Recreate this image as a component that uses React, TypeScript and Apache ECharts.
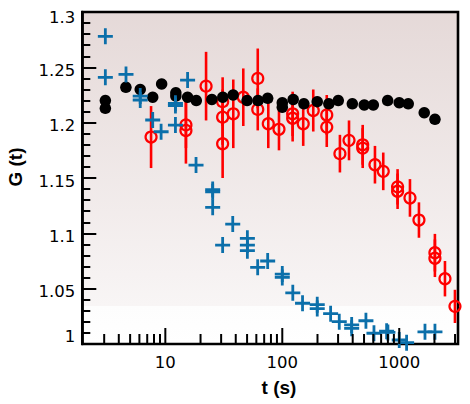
import React, { useEffect, useRef } from "react";
import * as echarts from "echarts";

// ---- data ----
const blackT = [3.07, 3.07, 4.6, 6.1, 7.8, 9.3, 12.3, 12.3, 15.5, 18.4, 25, 31, 38, 50, 62, 75, 100, 100, 124, 153, 199, 250, 301, 397, 502, 600, 796, 1000, 1194, 1636, 2020];
const blackG = [1.220, 1.213, 1.232, 1.230, 1.223, 1.235, 1.227, 1.224, 1.223, 1.220, 1.221, 1.223, 1.225, 1.220, 1.220, 1.222, 1.218, 1.214, 1.221, 1.217, 1.219, 1.217, 1.220, 1.217, 1.216, 1.216, 1.220, 1.218, 1.217, 1.209, 1.203];

const redT = [7.55, 15, 15, 22.3, 30.9, 30.9, 30.9, 38.1, 46.4, 61.7, 61.7, 75.9, 93.7, 122.6, 122.6, 151, 184, 240, 240, 311, 372, 487, 487, 620, 730, 968, 968, 1235, 1474, 2018, 2018, 2460, 2995];
const redG = [1.187, 1.198, 1.193, 1.233, 1.219, 1.205, 1.181, 1.208, 1.223, 1.240, 1.212, 1.199, 1.194, 1.208, 1.204, 1.199, 1.211, 1.207, 1.196, 1.172, 1.184, 1.180, 1.177, 1.162, 1.156, 1.142, 1.138, 1.132, 1.112, 1.0825, 1.0775, 1.059, 1.034];
const redErr = [0.028, 0.021, 0.030, 0.031, 0.022, 0.025, 0.031, 0.031, 0.026, 0.027, 0.019, 0.022, 0.019, 0.020, 0.021, 0.020, 0.019, 0.018, 0.018, 0.017, 0.018, 0.018, 0.018, 0.017, 0.017, 0.016, 0.016, 0.017, 0.016, 0.017, 0.017, 0.016, 0.015];

const blueT = [3.07, 3.07, 4.61, 6.1, 6.1, 7.8, 9.2, 12.2, 12.2, 12.2, 15.5, 18.3, 25.4, 25.4, 25.4, 30.9, 37.7, 50.3, 50.3, 50.3, 61.6, 75, 100, 100, 123, 149, 199, 199, 259, 307, 392, 392, 519, 608, 780, 800, 1000, 1156, 1660, 2020];
const blueG = [1.278, 1.241, 1.2436, 1.224, 1.2205, 1.2024, 1.1918, 1.2175, 1.2155, 1.1978, 1.2385, 1.1617, 1.1395, 1.1375, 1.1235, 1.0894, 1.1084, 1.0955, 1.0894, 1.0843, 1.0693, 1.075, 1.0632, 1.0602, 1.0462, 1.0368, 1.0355, 1.032, 1.0274, 1.0202, 1.0172, 1.0142, 1.021, 1.0097, 1.0115, 1.0105, 1.0036, 1.0012, 1.011, 1.011];

const xMajorTicks = [10, 100, 1000];
const xMinorTicks = [3, 4, 5, 6, 7, 8, 9, 20, 30, 40, 50, 60, 70, 80, 90, 200, 300, 400, 500, 600, 700, 800, 900, 2000, 3000];
const xTickLabels = ["10", "100", "1000"];
const yTickLabels = ["1", "1.05", "1.1", "1.15", "1.2", "1.25", "1.3"];

const X_MIN = 1.95;
const X_MAX = 3180;
const Y_MIN = 1;
const Y_MAX = 1.3;

const FONT = "Liberation Sans, Arial, Helvetica, sans-serif";
const TICKFONT = "DejaVu Sans, Verdana, sans-serif";
const PLUS = "path://M61,0H89V66H150V94H89V160H61V94H0V66H61Z";

export default function App() {
  const ref = useRef<HTMLDivElement>(null);

  useEffect(() => {
    if (!ref.current) return;
    const chart = echarts.init(ref.current, null, { renderer: "svg" });

    const tickData = [
      ...xMajorTicks.map((v) => [v, Y_MIN, 16]),
      ...xMinorTicks.map((v) => [v, Y_MIN, 10]),
    ];

    const option: any = {
      animation: false,
      backgroundColor: "#ffffff",
      grid: {
        left: 82.3,
        right: 12,
        top: 12,
        bottom: 60,
        show: true,
        borderColor: "#000",
        borderWidth: 2.6,
        backgroundColor: new echarts.graphic.LinearGradient(0, 0, 0, 1, [
          { offset: 0, color: "#e5d9d8" },
          { offset: 0.885, color: "#f8f5f5" },
          { offset: 0.886, color: "#fdfdfd" },
          { offset: 1, color: "#ffffff" },
        ]),
      },
      xAxis: {
        type: "log",
        logBase: 10,
        min: X_MIN,
        max: X_MAX,
        axisLine: { show: false },
        axisTick: { show: false },
        axisLabel: { show: false },
        splitLine: { show: false },
      },
      yAxis: {
        type: "value",
        min: Y_MIN,
        max: Y_MAX,
        interval: 0.05,
        axisLine: { show: true, lineStyle: { color: "#000", width: 2.6 } },
        axisTick: { show: true, inside: true, length: 14, lineStyle: { color: "#000", width: 2 } },
        minorTick: { show: true, splitNumber: 5, length: 8, lineStyle: { color: "#000", width: 2 } },
        splitLine: { show: false },
        minorSplitLine: { show: false },
        axisLabel: {
          margin: 7,
          color: "#000",
          fontSize: 16.5,
          fontFamily: TICKFONT,
          formatter: (v: number) => {
            const i = Math.round((v - Y_MIN) / 0.05);
            const s = yTickLabels[i] ?? String(v);
            const key = i === 0 ? "lo" : i === yTickLabels.length - 1 ? "hi" : "mid";
            return `{${key}|${s}}`;
          },
          rich: {
            lo: { fontSize: 16.5, fontFamily: TICKFONT, color: "#000", padding: [0, 0, 16, 0] },
            hi: { fontSize: 16.5, fontFamily: TICKFONT, color: "#000", padding: [10, 0, 0, 0] },
            mid: { fontSize: 16.5, fontFamily: TICKFONT, color: "#000", padding: [6, 0, 0, 0] },
          },
        },
      },
      graphic: [
        {
          type: "text",
          x: 15.5,
          y: 167,
          rotation: Math.PI / 2,
          style: {
            text: "G (t)",
            fontSize: 19,
            fontWeight: "bold",
            fontFamily: FONT,
            fill: "#000",
            align: "center",
            verticalAlign: "middle",
          },
        },
        {
          type: "text",
          x: 279,
          y: 387,
          style: {
            text: "t (s)",
            fontSize: 19,
            fontWeight: "bold",
            fontFamily: FONT,
            fill: "#000",
            align: "center",
            verticalAlign: "middle",
          },
        },
      ],
      series: [
        {
          name: "xticks",
          type: "custom",
          z: 10,
          silent: true,
          clip: false,
          data: tickData,
          encode: { x: 0, y: 1 },
          renderItem: (_p: any, api: any) => {
            const p = api.coord([api.value(0), api.value(1)]);
            const len = api.value(2);
            return {
              type: "line",
              z2: 100,
              shape: { x1: p[0], y1: p[1], x2: p[0], y2: p[1] - len },
              style: { stroke: "#000", lineWidth: 2 },
            };
          },
        },
        {
          name: "xlabels",
          type: "custom",
          z: 10,
          silent: true,
          clip: false,
          data: xMajorTicks.map((v) => [v, Y_MIN]),
          encode: { x: 0, y: 1 },
          renderItem: (params: any, api: any) => {
            const p = api.coord([api.value(0), api.value(1)]);
            return {
              type: "text",
              x: p[0],
              y: p[1] + 18.5,
              style: {
                text: xTickLabels[params.dataIndex],
                fontSize: 16.5,
                fontFamily: TICKFONT,
                fill: "#000",
                align: "center",
                verticalAlign: "middle",
              },
            };
          },
        },
        {
          name: "red errors",
          type: "custom",
          z: 2,
          silent: true,
          clip: false,
          data: redT.map((t, i) => [t, redG[i], redErr[i]]),
          encode: { x: 0, y: 1 },
          renderItem: (_p: any, api: any) => {
            const t = api.value(0);
            const g = api.value(1);
            const e = api.value(2);
            const a = api.coord([t, g + e]);
            const b = api.coord([t, g - e]);
            return {
              type: "line",
              shape: { x1: a[0], y1: a[1], x2: b[0], y2: b[1] },
              style: { stroke: "#ff0000", lineWidth: 2.6 },
            };
          },
        },
        {
          name: "red",
          type: "scatter",
          z: 3,
          data: redT.map((t, i) => [t, redG[i]]),
          symbol: "circle",
          symbolSize: 11,
          itemStyle: { color: "rgba(0,0,0,0)", borderColor: "#ff0000", borderWidth: 2.2, opacity: 1 },
        },
        {
          name: "black",
          type: "scatter",
          z: 4,
          data: blackT.map((t, i) => [t, blackG[i]]),
          symbol: "circle",
          symbolSize: 11.5,
          itemStyle: { color: "#000", opacity: 1 },
        },
        {
          name: "blue",
          type: "scatter",
          z: 5,
          data: blueT.map((t, i) => [t, blueG[i]]),
          symbol: PLUS,
          symbolSize: [15, 16],
          itemStyle: { color: "#0b6faa", opacity: 1 },
        },
      ],
    };

    chart.setOption(option);
    return () => chart.dispose();
  }, []);

  return (
    <div
      ref={ref}
      style={{ position: "absolute", left: 0, top: 0, width: 470, height: 404 }}
    />
  );
}
